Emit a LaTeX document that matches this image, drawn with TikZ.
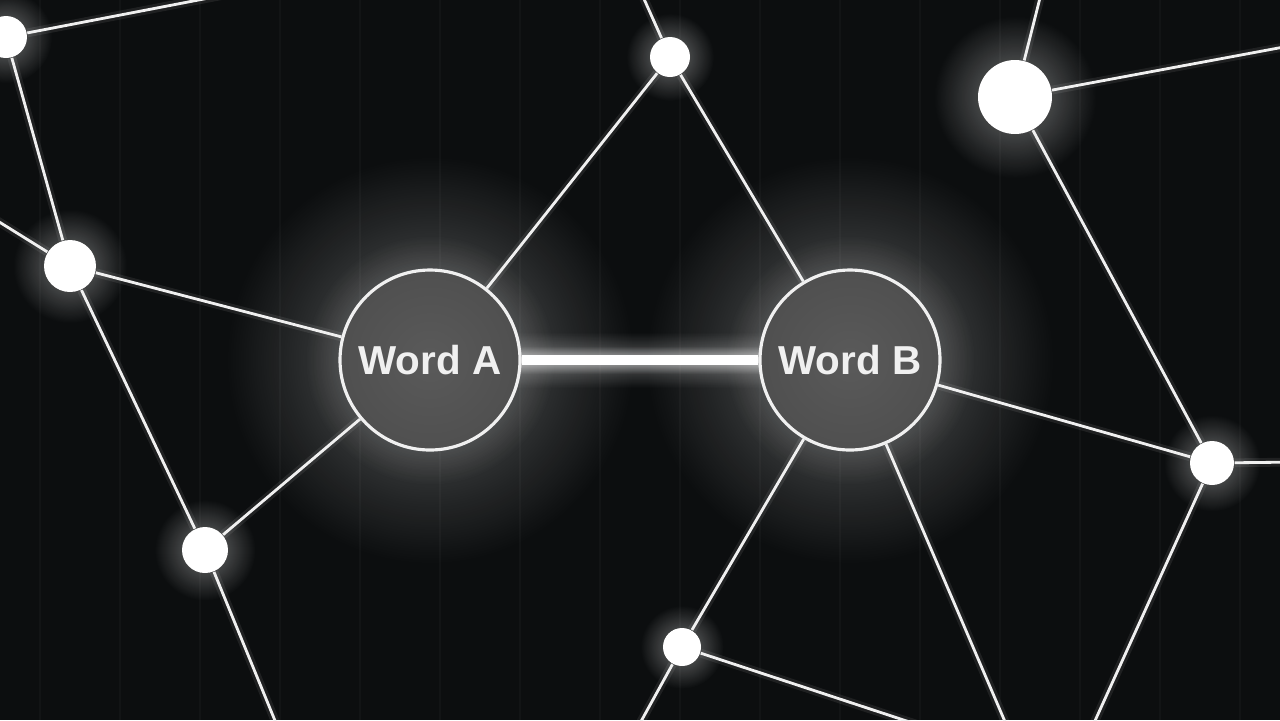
\documentclass[tikz,border=0pt]{standalone}
\usepackage{fontspec}
\setmainfont{Liberation Sans}
\usetikzlibrary{fadings}
\definecolor{bgdark}{HTML}{0C0E0F}
\definecolor{gridline}{HTML}{121415}
\definecolor{wordfill}{HTML}{454545}
\definecolor{wordin}{HTML}{5A5A5A}
\definecolor{linewhite}{HTML}{F0F0F0}
\tikzfading[name=glowfade, inner color=transparent!0, outer color=transparent!100]
\tikzfading[name=barfade, top color=transparent!100, bottom color=transparent!100, middle color=transparent!0]
\pgfdeclareradialshading{wordshade}{\pgfpoint{0bp}{0bp}}{color(0bp)=(wordin); color(50bp)=(wordfill); color(72bp)=(wordfill)}
\pgfdeclarelayer{backdrop}
\pgfdeclarelayer{glow}
\pgfdeclarelayer{edges}
\pgfsetlayers{backdrop,glow,edges,main}
\tikzset{
  edge/.style={draw=linewhite, line width=0.8pt},
  edgeglow/.style={draw=white, line width=2.5pt, opacity=0.08},
  dot/.style={circle, fill=white, inner sep=0pt},
  word/.style={circle, draw=linewhite, line width=0.9pt, shading=wordshade, minimum size=18mm, inner sep=0pt, text=linewhite, font=\bfseries\fontsize{11.5}{12}\selectfont},
}
\begin{document}
\begin{tikzpicture}[x=0.1mm,y=-0.1mm]
    \useasboundingbox (0,0) rectangle (1280,720);
    \begin{pgfonlayer}{backdrop}
        \fill[bgdark] (0,0) rectangle (1280,720);
        \foreach \x in {40,120,...,1240} \draw[gridline, line width=0.3pt] (\x,0) -- (\x,720);
    \end{pgfonlayer}
    % the two words
    \node[word] (wordA) at (430,360) {Word A};
    \node[word] (wordB) at (850,360) {Word B};
    % small dots: name/x/y/radius
    \foreach \n/\x/\y/\r in {tl/6/37/21, l/70/266/26, top/670/57/20, tr/1015/97/37, bl/205/550/23, bot/682/647/19, r/1212/463/22}{
        \node[dot, minimum size=\r*0.2mm] (\n) at (\x,\y) {};
        \begin{pgfonlayer}{glow}
            \fill[white, opacity=0.4, path fading=glowfade] (\x,\y) circle (\r*2.2);
        \end{pgfonlayer}
    }
    % loose ends
    \path (240,-8) coordinate (o1) (-20,210) coordinate (o2) (285,745) coordinate (o3)
        (640,-10) coordinate (o4) (1042,-10) coordinate (o5) (1300,44) coordinate (o6)
        (1300,462) coordinate (o7) (1084,745) coordinate (o8) (1015,745) coordinate (o9)
        (628,745) coordinate (o10) (940,732) coordinate (o11);
    \begin{pgfonlayer}{glow}
        \foreach \w in {wordA,wordB}{
            \fill[white, opacity=0.32, path fading=glowfade] (\w) circle (205);
            \fill[white, opacity=0.38, path fading=glowfade] (\w) circle (125);
        }
        \fill[white, opacity=0.3, path fading=barfade] (430,332) rectangle (850,388);
        \fill[white, opacity=0.5, path fading=barfade] (430,346) rectangle (850,374);
    \end{pgfonlayer}
    \begin{pgfonlayer}{edges}
        \foreach \a/\b in {tl/o1, tl/l, l/o2, l/wordA, l/bl, bl/wordA, bl/o3, wordA/top, top/o4, top/wordB,
                tr/o5, tr/o6, tr/r, wordB/r, r/o7, r/o8, wordB/bot, wordB/o9, bot/o10, bot/o11}{
            \draw[edgeglow] (\a) -- (\b);
            \draw[edge] (\a) -- (\b);
        }
        \draw[white, line width=2.6pt] (wordA) -- (wordB);
    \end{pgfonlayer}
\end{tikzpicture}
\end{document}
